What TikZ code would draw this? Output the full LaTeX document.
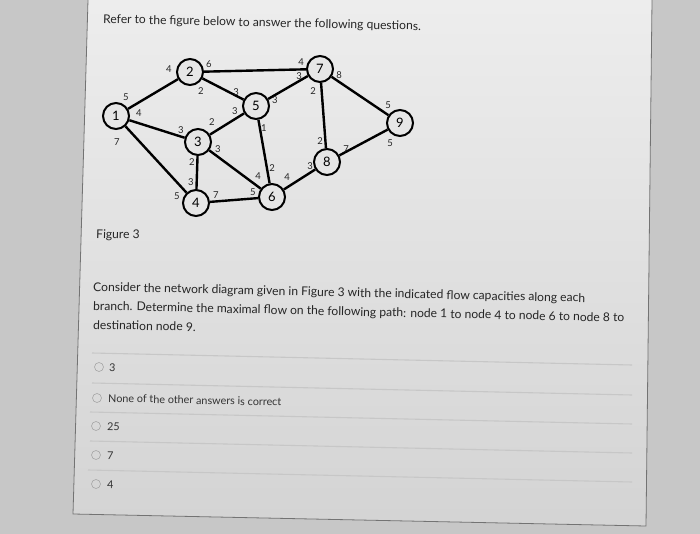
\documentclass[tikz,border=0pt]{standalone}
\usepackage{fontspec}
\setmainfont{Lato}
\begin{document}
\begin{tikzpicture}[x=1pt,y=-1pt,
  vtx/.style={circle,draw=black,line width=2pt,fill=paper,minimum size=26pt,inner sep=0pt,font=\fontsize{13}{13}\selectfont},
  edge/.style={line width=2.4pt,black},
  caplbl/.style={font=\fontsize{9.5}{10}\selectfont,inner sep=0pt,text=black!85},
  txt/.style={anchor=base west,inner sep=0pt,text=black!85,rotate=-1.3,font=\fontsize{12.1}{13}\selectfont},
  opt/.style={anchor=base west,inner sep=0pt,text=black!80,rotate=-1.3,font=\fontsize{10.8}{11}\selectfont},
  radio/.style={circle,draw=black!35,line width=0.6pt,minimum size=9pt,inner sep=0pt},
  sep/.style={draw=black!22,line width=1.1pt}]
\definecolor{paper}{HTML}{E6E6E6}
\useasboundingbox (0,0) rectangle (700,534);
\fill[black!22] (0,0) rectangle (700,534);
\shade[top color=black!7,bottom color=black!17] (88,0) -- (652,0) -- (646,526) -- (73,514) -- cycle;
\draw[black!55,line width=0.8pt] (88,0) -- (73,514) -- (646,526) -- (652,0);

% header text
\node[txt] (head) at (103,23) {Refer to the figure below to answer the following questions.};

% graph nodes
\node[vtx] (n1) at (116,116) {1};
\node[vtx] (n2) at (190,72) {2};
\node[vtx] (n3) at (198,142) {3};
\node[vtx] (n4) at (196,203) {4};
\node[vtx] (n5) at (256,106) {5};
\node[vtx] (n6) at (272,197) {6};
\node[vtx] (n7) at (320,69) {7};
\node[vtx] (n8) at (327,162) {8};
\node[vtx] (n9) at (400,123) {9};

\draw[edge] (n1) -- (n2);
\draw[edge] (n1) -- (n3);
\draw[edge] (n1) -- (n4);
\draw[edge] (n2) -- (n7);
\draw[edge] (n2) -- (n5);
\draw[edge] (n3) -- (n5);
\draw[edge] (n3) -- (n4);
\draw[edge] (n3) -- (n6);
\draw[edge] (n4) -- (n6);
\draw[edge] (n5) -- (n7);
\draw[edge] (n5) -- (n6);
\draw[edge] (n7) -- (n8);
\draw[edge] (n7) -- (n9);
\draw[edge] (n6) -- (n8);
\draw[edge] (n8) -- (n9);

% edge capacity labels
\node[caplbl] (c12a) at (126,97) {5};
\node[caplbl] (c12b) at (169,69) {4};
\node[caplbl] (c27a) at (209,64) {6};
\node[caplbl] (c27b) at (301,62) {4};
\node[caplbl] (c25a) at (201,91) {2};
\node[caplbl] (c25b) at (236,92) {3};
\node[caplbl] (c57a) at (275,100) {3};
\node[caplbl] (c57b) at (299,76) {3};
\node[caplbl] (c79a) at (339,75) {8};
\node[caplbl] (c79b) at (388,105) {5};
\node[caplbl] (c78a) at (313,91) {2};
\node[caplbl] (c78b) at (320,141) {2};
\node[caplbl] (c13a) at (139,113) {4};
\node[caplbl] (c13b) at (181,130) {3};
\node[caplbl] (c35a) at (212,122) {2};
\node[caplbl] (c35b) at (235,111) {3};
\node[caplbl] (c56a) at (264,128) {1};
\node[caplbl] (c56b) at (272,168) {2};
\node[caplbl] (c14a) at (117,142) {7};
\node[caplbl] (c14b) at (177,196) {5};
\node[caplbl] (c36a) at (218,149) {3};
\node[caplbl] (c36b) at (258,176) {4};
\node[caplbl] (c34a) at (192,162) {2};
\node[caplbl] (c34b) at (191,182) {3};
\node[caplbl] (c89a) at (346,149) {7};
\node[caplbl] (c89b) at (390,143) {5};
\node[caplbl] (c68a) at (287,177) {4};
\node[caplbl] (c68b) at (310,166) {3};
\node[caplbl] (c46a) at (216,195) {7};
\node[caplbl] (c46b) at (253,192) {5};

% caption and question
\node[txt] (fig) at (96,238) {Figure 3};
\node[txt] (q1) at (93,291) {Consider the network diagram given in Figure 3 with the indicated flow capacities along each};
\node[txt] (q2) at (93,310) {branch. Determine the maximal flow on the following path: node 1 to node 4 to node 6 to node 8 to};
\node[txt] (q3) at (93,329) {destination node 9.};

% option separators
\draw[sep] (92,353) -- (632,365);
\draw[sep] (92,383) -- (632,395);
\draw[sep] (90,412) -- (632,424);
\draw[sep] (90,441) -- (632,453);
\draw[sep] (88,470) -- (632,482);

% options
\node[radio] (r1) at (99,367) {};
\node[opt] (o1) at (109,371) {3};
\node[radio] (r2) at (97,398) {};
\node[opt] (o2) at (108,402) {None of the other answers is correct};
\node[radio] (r3) at (96,426) {};
\node[opt] (o3) at (107,430) {25};
\node[radio] (r4) at (96,455) {};
\node[opt] (o4) at (107,459) {7};
\node[radio] (r5) at (96,484) {};
\node[opt] (o5) at (107,488) {4};
\end{tikzpicture}
\end{document}
